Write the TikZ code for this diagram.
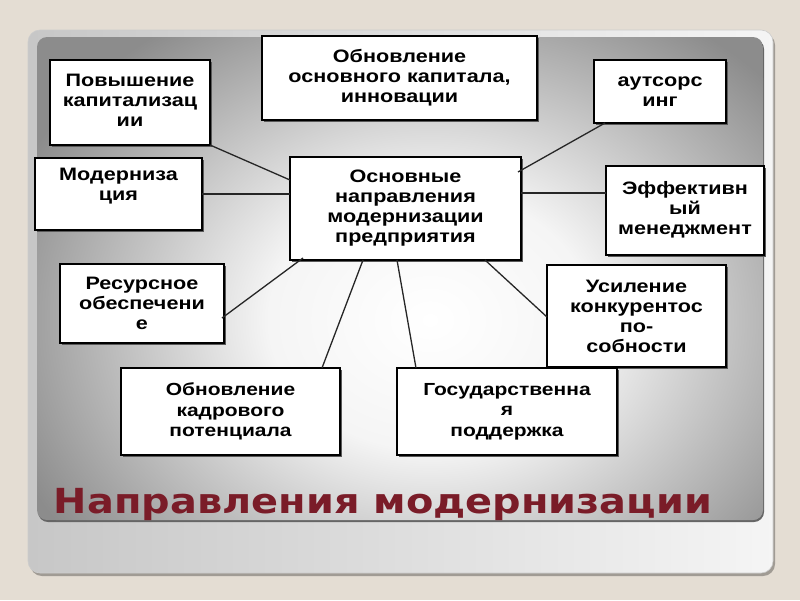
\documentclass[tikz,border=0pt]{standalone}
\usepackage{fontspec}
\newfontfamily\boxfont[FakeStretch=1.2]{Liberation Sans}
\newfontfamily\titlefont[FakeStretch=1.155]{DejaVu Sans}
\usetikzlibrary{shadows,calc}
\definecolor{slidebg}{RGB}{228,221,211}
\definecolor{titlered}{RGB}{122,28,40}
\pgfdeclareradialshading{panelshade}{\pgfpoint{0bp}{0bp}}{color(0bp)=(white); color(9bp)=(white!96!black); color(25bp)=(black!45); color(50bp)=(black!45)}
\begin{document}
\begin{tikzpicture}[x=1pt,y=-1pt,
  box/.style={draw=black, line width=1.4pt, fill=white, inner sep=0pt, outer sep=0pt, align=center,
    font=\boxfont\bfseries\fontsize{18}{20}\selectfont,
    drop shadow={shadow xshift=2pt, shadow yshift=-2pt, fill=black!65, opacity=1}},
  lightbox/.style={box, font=\boxfont\bfseries\fontsize{17.5}{20.5}\selectfont},
  link/.style={draw=black!85, line width=1.3pt}]
\useasboundingbox (0,0) rectangle (800,600);
% slide background
\fill[slidebg] (0,0) rectangle (800,600);
\fill[rounded corners=12pt, black!30!slidebg] (30,33) rectangle (775,576);
\shade[rounded corners=12pt, left color=black!22, right color=white!96!black, draw=black!20, line width=0.6pt] (28,30) rectangle (773,573);
% inner panel
\fill[rounded corners=10pt, black!60] (38,39) rectangle (764,522);
\begin{scope}
  \clip[rounded corners=10pt] (37,37) rectangle (763,520);
  \fill[black!45] (37,37) rectangle (763,520);
  \shade[shading=panelshade] (430,320) ellipse (450pt and 360pt);
\end{scope}
% boxes
\node[box, minimum width=160pt, minimum height=85pt] (b1) at (130,102.5) {\raisebox{3pt}{\begin{tabular}{@{}c@{}}Повышение\\капитализац\\ии\end{tabular}}};
\node[box, minimum width=275pt, minimum height=84pt] (b2) at (399.5,78) {\raisebox{3pt}{\begin{tabular}{@{}c@{}}Обновление\\основного капитала,\\инновации\end{tabular}}};
\node[box, minimum width=132pt, minimum height=63pt] (b3) at (660,91.5) {аутсорс\\инг};
\node[box, minimum width=167pt, minimum height=72pt] (b4) at (118.5,194) {Модерниза\\ция\\\mbox{}};
\node[box, minimum width=231pt, minimum height=103pt] (ctr) at (405.5,208.5) {Основные\\направления\\модернизации\\предприятия};
\node[box, minimum width=158pt, minimum height=89pt] (b6) at (685,210.5) {\raisebox{4pt}{\begin{tabular}{@{}c@{}}Эффективн\\ый\\менеджмент\end{tabular}}};
\node[box, minimum width=164pt, minimum height=79pt] (b7) at (142,303.5) {Ресурсное\\обеспечени\\е};
\node[box, minimum width=179pt, minimum height=102pt] (b8) at (636.5,316) {Усиление\\конкурентос\\по-\\собности};
\node[lightbox, minimum width=219pt, minimum height=87pt] (b9) at (230.5,411.5) {Обновление\\кадрового\\потенциала};
\node[lightbox, minimum width=220pt, minimum height=87pt] (b10) at (507,411.5) {Государственна\\я\\поддержка};
% connector end points
\coordinate (e6) at ($(b6.north west)+(0,27)$);
\coordinate (c6) at (e6 -| ctr.east);
% connectors
\draw[link] (b1.south east) -- ($(ctr.north west)+(0,23)$);
\draw[link] (b4.east) -- (b4.east -| ctr.west);
\draw[link] ($(b3.south west)+(11,0)$) -- ($(ctr.north east)+(-3,15)$);
\draw[link] (e6) -- (c6);
\draw[link] ($(b7.north east)+(-2,54)$) -- ($(ctr.south west)+(13,-2)$);
\draw[link] ($(b9.north west)+(201,0)$) -- ($(ctr.south west)+(73,0)$);
\draw[link] ($(b10.north west)+(19,0)$) -- ($(ctr.south west)+(107,0)$);
\draw[link] ($(b8.north west)+(0,52)$) -- ($(ctr.south west)+(195,0)$);
% title
\node[font=\titlefont\bfseries\fontsize{34.5}{40}\selectfont, text=titlered, anchor=base, inner sep=0pt] (title) at (383,513) {Направления модернизации};
\end{tikzpicture}
\end{document}
